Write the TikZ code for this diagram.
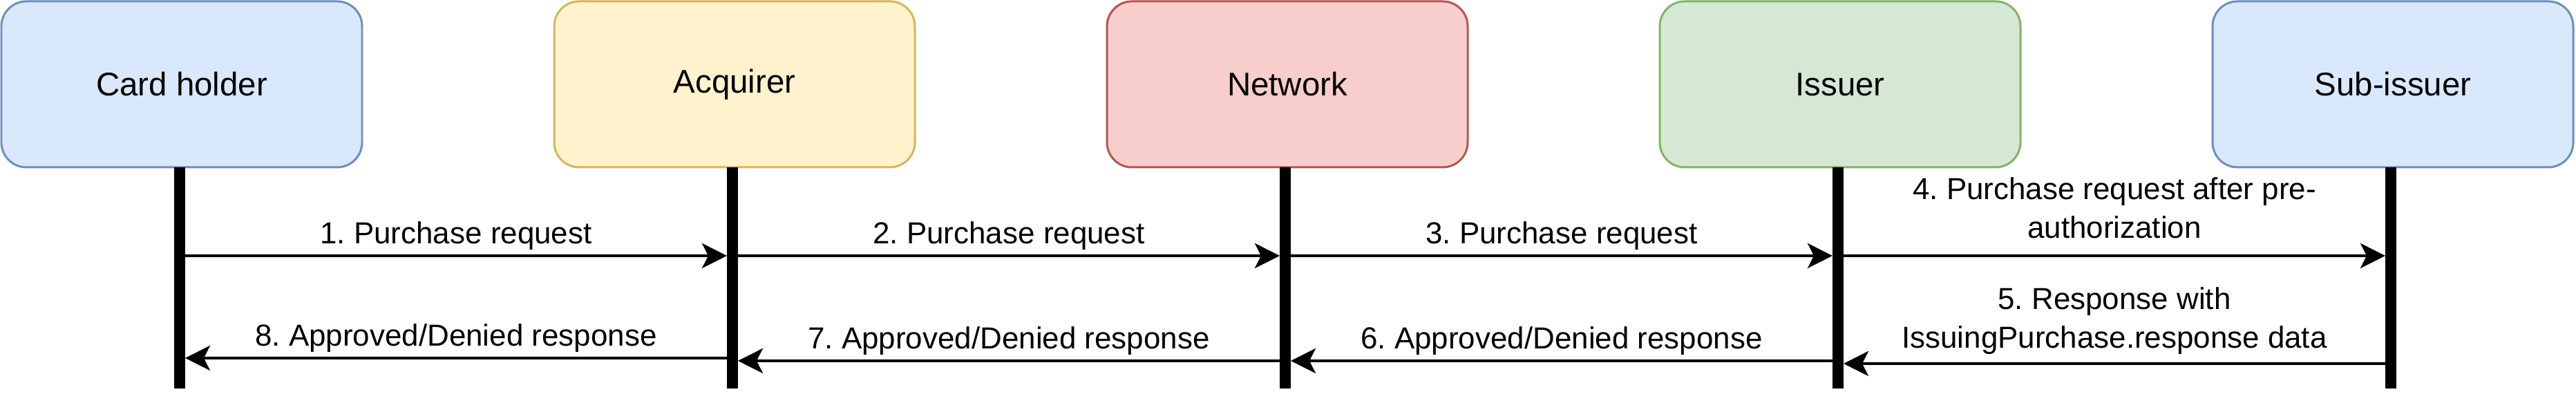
\documentclass[tikz,border=0pt]{standalone}
\usepackage{fontspec}
\setmainfont{Liberation Sans}
\usepackage{tikz}
\usetikzlibrary{positioning,arrows.meta}
\definecolor{bluefill}{HTML}{DAE8FC}
\definecolor{blueline}{HTML}{6C8EBF}
\definecolor{yellowfill}{HTML}{FFF2CC}
\definecolor{yellowline}{HTML}{D6B656}
\definecolor{redfill}{HTML}{F8CECC}
\definecolor{redline}{HTML}{B85450}
\definecolor{greenfill}{HTML}{D5E8D4}
\definecolor{greenline}{HTML}{82B366}
\frenchspacing

\begin{document}
\begin{tikzpicture}[
	actor/.style={rectangle, rounded corners=0.36cm, draw, line width=0.85pt, minimum width=5.22cm, minimum height=2.4cm, inner sep=0pt, outer sep=0pt, font=\fontsize{13.5}{16}\selectfont},
	lifeline/.style={fill=black, minimum width=0.16cm, minimum height=3.2cm, inner sep=0pt, outer sep=0pt, anchor=north, xshift=-0.03cm},
	msg/.style={-{Stealth[length=0.36cm, width=0.36cm, inset=0.09cm]}, line width=1.2pt},
	lbl/.style={inner sep=0pt, align=center, font=\fontsize{12.5}{15.9}\selectfont}
]
	\useasboundingbox (0,0) rectangle (37.28,5.96);

	\node[actor, fill=bluefill, draw=blueline] (card) at (2.63,4.74) {Card holder};
	\node[actor, fill=yellowfill, draw=yellowline, right=2.78cm of card] (acq) {Acquirer};
	\node[actor, fill=redfill, draw=redline, right=2.78cm of acq] (net) {Network};
	\node[actor, fill=greenfill, draw=greenline, right=2.78cm of net] (iss) {Issuer};
	\node[actor, fill=bluefill, draw=blueline, right=2.78cm of iss] (sub) {Sub-issuer};

	%lifelines
	\node[lifeline] (cardL) at (card.south) {};
	\node[lifeline] (acqL) at (acq.south) {};
	\node[lifeline] (netL) at (net.south) {};
	\node[lifeline] (issL) at (iss.south) {};
	\node[lifeline] (subL) at (sub.south) {};

	\coordinate (rowA) at (0,2.26);
	\coordinate (rowB) at (0,0.78);
	\coordinate (rowC) at (0,0.74);
	\coordinate (rowD) at (0,0.70);

	%requests
	\draw[msg] (cardL.east |- rowA) -- node[lbl, above=0.06cm] {1. Purchase request} (acqL.west |- rowA);
	\draw[msg] (acqL.east |- rowA) -- node[lbl, above=0.06cm] {2. Purchase request} (netL.west |- rowA);
	\draw[msg] (netL.east |- rowA) -- node[lbl, above=0.06cm] {3. Purchase request} (issL.west |- rowA);
	\draw[msg] (issL.east |- rowA) -- node[lbl, above=0.23cm] {4. Purchase request after pre-\\authorization} (subL.west |- rowA);

	%responses
	\draw[msg] (subL.west |- rowD) -- node[lbl, above=0.11cm] {5. Response with\\IssuingPurchase.response data} (issL.east |- rowD);
	\draw[msg] (issL.west |- rowC) -- node[lbl, above=0.06cm] {6. Approved/Denied response} (netL.east |- rowC);
	\draw[msg] (netL.west |- rowC) -- node[lbl, above=0.06cm] {7. Approved/Denied response} (acqL.east |- rowC);
	\draw[msg] (acqL.west |- rowB) -- node[lbl, above=0.06cm] {8. Approved/Denied response} (cardL.east |- rowB);
\end{tikzpicture}
\end{document}
